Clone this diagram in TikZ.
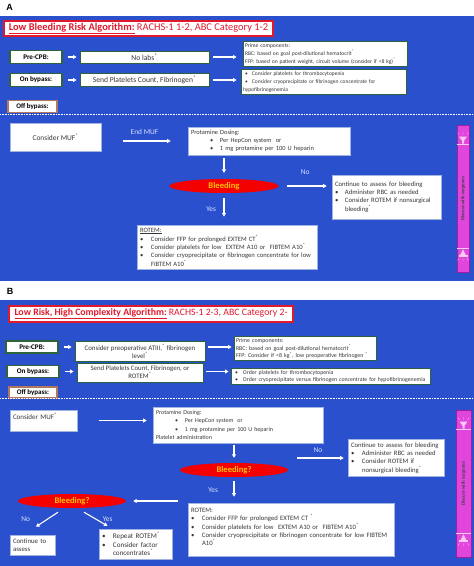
\documentclass[tikz,border=0pt]{standalone}
\usepackage{fontspec}
\setmainfont{Carlito}
\newfontfamily\panelfont{Liberation Sans}
\usepackage{tikz}
\usetikzlibrary{arrows.meta,positioning,calc,shapes.geometric}
\definecolor{panelblue}{RGB}{42,80,205}
\definecolor{boxgreen}{RGB}{45,100,60}
\definecolor{offbrown}{RGB}{175,120,95}
\definecolor{titlered}{RGB}{225,25,45}
\definecolor{bleedred}{RGB}{245,0,0}
\definecolor{bleedtext}{RGB}{255,195,0}
\definecolor{barpink}{RGB}{225,70,220}
\definecolor{baredge}{RGB}{160,30,160}
\definecolor{iconpink}{RGB}{250,200,245}
\definecolor{thinedge}{RGB}{160,180,225}
\definecolor{lbltext}{RGB}{215,225,255}
\definecolor{bodytext}{RGB}{55,55,55}
\newcommand{\bul}[1][10pt]{\makebox[#1][l]{\textbullet}}
\newcommand{\hang}[1][10pt]{\hspace*{#1}}
\newcommand{\st}{\textsuperscript{*}}
\tikzset{
  stagebox/.style={draw=boxgreen,line width=1.1pt,fill=white,inner sep=0pt,minimum height=13pt,minimum width=52pt,font=\fontsize{7.1}{8}\selectfont\bfseries},
  greenbox/.style={draw=boxgreen,line width=0.9pt,fill=white,inner sep=2pt,align=center,text=bodytext,font=\fontsize{7.6}{8.4}\selectfont},
  notebox/.style={draw=boxgreen,line width=0.9pt,fill=white,inner sep=2pt,align=left,text=bodytext,font=\fontsize{5.6}{8}\selectfont},
  offbox/.style={draw=offbrown,line width=1.1pt,fill=white,inner sep=0pt,minimum height=12pt,font=\fontsize{7}{8}\selectfont\bfseries},
  stepbox/.style={draw=thinedge,line width=0.6pt,fill=white,inner sep=3pt,align=left,text=bodytext,font=\fontsize{6.6}{8.2}\selectfont},
  titlebox/.style={draw=titlered,line width=1.5pt,fill=white,text=titlered,inner sep=0pt,minimum height=15pt,font=\fontsize{10.4}{12}\selectfont},
  decision/.style={ellipse,fill=bleedred,text=bleedtext,inner sep=0pt,minimum width=109pt,minimum height=14pt,font=\fontsize{8.6}{9}\selectfont\bfseries},
  sidebar/.style={draw=baredge,line width=0.8pt,fill=barpink,inner sep=0pt},
  flowarrow/.style={-{Triangle[width=4pt,length=3.5pt]},white,line width=1.1pt},
  flowlabel/.style={text=lbltext,inner sep=2.5pt,font=\fontsize{7.4}{9}\selectfont},
  panelletter/.style={font=\panelfont\fontsize{9}{10}\selectfont\bfseries}
}

\begin{document}
\begin{tikzpicture}[x=1pt,y=-1pt]
  \useasboundingbox (0,0) rectangle (474,566);
  \fill[panelblue] (0,15.5) rectangle (474,281);
  \fill[panelblue] (0,299.5) rectangle (474,566);

  \node[panelletter] (letA) at (9.5,7.5) {A};
  \node[titlebox,minimum width=269pt] (titleA) at (138.5,28.5) {\textbf{\underline{Low Bleeding Risk Algorithm:}} RACHS-1 1-2, ABC Category 1-2};
  \node[stagebox] (preA) at (36,57) {Pre-CPB:};
  \node[greenbox,minimum width=129pt,minimum height=12pt] (nolabs) at (144.5,57) {No labs\st};
  \node[notebox,text width=160pt] (primeA) at (325,54) {Prime components:\\RBC: based on goal post-dilutional hematocrit\st\\FFP: based on patient weight, circuit volume (consider if <8 kg)\st};
  \node[stagebox] (onA) at (36,80) {On bypass:};
  \node[greenbox,minimum width=129pt,minimum height=13pt] (sendA) at (144.5,80) {Send Platelets Count, Fibrinogen\st};
  \node[notebox,text width=161pt,font=\fontsize{5.5}{8}\selectfont] (plateA) at (323.5,82) {\hspace*{2pt}\bul[7pt]Consider platelets for thrombocytopenia\\\hspace*{2pt}\bul[7pt]Consider cryoprecipitate or fibrinogen concentrate for\\hypofibrinogenemia};
  \node[offbox,minimum width=49pt] (offA) at (32.5,106.5) {Off bypass:};
  \draw[white,line width=0.8pt,dash pattern=on 0.8pt off 0.8pt] (0,114) -- (474,114);

  \node[stepbox,align=center,minimum width=91pt,minimum height=28pt,font=\fontsize{7.4}{8.2}\selectfont] (mufA) at (55.5,137) {Consider MUF\st};
  \node[stepbox,text width=156pt,minimum height=28pt,font=\fontsize{6.4}{8.2}\selectfont] (protA) at (269,141) {Protamine Dosing:\\\hang[19pt]\bul Per HepCon system\ \ or\\\hang[19pt]\bul 1 mg protamine per 100 U heparin};
  \node[decision] (bleedA) at (224,186) {Bleeding};
  \node[stepbox,text width=103pt,minimum height=44pt,font=\fontsize{6.7}{8.3}\selectfont] (contA) at (386.5,197) {Continue to assess for bleeding\\\bul Administer RBC as needed\\\bul Consider ROTEM if nonsurgical\\\hang bleeding\st};
  \node[stepbox,text width=174pt,minimum height=44pt] (rotemA) at (227,247) {\underline{ROTEM:}\\\bul[11pt]Consider FFP for prolonged EXTEM CT\st\\\bul[11pt]Consider platelets for low\ \ EXTEM A10 or\ \ FIBTEM A10\st\\\bul[11pt]Consider cryoprecipitate or fibrinogen concentrate for low\\\hang[11pt]FIBTEM A10\st};
  \node[sidebar,minimum width=12pt,minimum height=147pt] (barA) at (463,198.5) {};
  \node[rotate=90,font=\fontsize{4.8}{5}\selectfont\bfseries,text=black!75] (discA) at (barA) {Discuss with surgeons};

  \draw[flowarrow,shorten <=5pt,shorten >=3pt] (preA) -- (nolabs);
  \draw[flowarrow,shorten <=4pt,shorten >=6pt] (nolabs.east) -- (nolabs.east -| primeA.west);
  \draw[flowarrow,shorten <=5pt,shorten >=3pt] (onA) -- (sendA);
  \draw[flowarrow,shorten <=4pt,shorten >=4pt] (sendA.east) -- (sendA.east -| plateA.west);
  \draw[flowarrow,shorten <=22pt,shorten >=17pt] (mufA.east |- protA) -- (protA.west)
      node[midway,above=3pt,flowlabel] (endmuf) {End MUF};
  \draw[flowarrow,shorten <=3pt,shorten >=6pt] (protA.south -| bleedA) -- (bleedA.north);
  \draw[flowarrow,shorten <=8pt,shorten >=5pt] (bleedA.east) -- (bleedA.east -| contA.west)
      node[midway,above=8pt,flowlabel] (noA) {No};
  \draw[flowarrow,shorten <=5pt,shorten >=8pt] (bleedA.south) -- (rotemA.north -| bleedA)
      node[midway,left=5pt,flowlabel] (yesA) {Yes};

  \node[panelletter] (letB) at (10,291.5) {B};
  \node[titlebox,minimum width=284pt,minimum height=16pt,font=\fontsize{9.8}{12}\selectfont] (titleB) at (151,314) {\textbf{\underline{Low Risk, High Complexity Algorithm:}} RACHS-1 2-3, ABC Category 2-};
  \node[stagebox,minimum height=12pt] (preB) at (32,347) {Pre-CPB:};
  \node[greenbox,minimum width=130pt,minimum height=20pt,font=\fontsize{6.9}{8}\selectfont] (atB) at (140,351) {Consider preoperative ATIII,\st\ fibrinogen\\level\st};
  \node[notebox,text width=138pt,font=\fontsize{5.9}{7.5}\selectfont] (primeB) at (305,348.5) {Prime components:\\RBC: based on goal post-dilutional hematocrit\st\\FFP: Consider if <8 kg\st, low preoperative fibrinogen \st};
  \node[stagebox,minimum height=12pt] (onB) at (33,371.5) {On bypass:};
  \node[greenbox,minimum width=126pt,minimum height=19pt,font=\fontsize{6.8}{8}\selectfont] (sendB) at (140,372.5) {Send Platelets Count, Fibrinogen, or\\ROTEM\st};
  \node[notebox,text width=195pt,font=\fontsize{5.8}{6.8}\selectfont] (plateB) at (330.5,376.5) {\hspace*{2pt}\bul[8pt]Order platelets for thrombocytopenia\\\hspace*{2pt}\bul[8pt]Order cryoprecipitate versus fibrinogen concentrate for hypofibrinogenemia};
  \node[offbox,minimum width=48pt,minimum height=11pt] (offB) at (33,392.5) {Off bypass:};
  \draw[white,line width=0.8pt,dash pattern=on 0.8pt off 0.8pt] (0,398) -- (474,398);

  \node[stepbox,text width=61pt,minimum height=19pt,font=\fontsize{7}{8.2}\selectfont] (mufB) at (43.5,420.5) {Consider MUF\st\\~};
  \node[stepbox,text width=164pt,minimum height=36pt,font=\fontsize{6}{8.2}\selectfont] (protB) at (238,425) {Protamine Dosing:\\\hang[19pt]\bul Per HepCon system\ \ or\\\hang[19pt]\bul 1 mg protamine per 100 U heparin\\Platelet administration};
  \node[decision,minimum width=108pt] (bleedB) at (234,470) {Bleeding?};
  \node[stepbox,text width=90pt,minimum height=36pt,font=\fontsize{6.7}{8.3}\selectfont] (contB) at (396,458) {Continue to assess for bleeding\\\bul[11pt]Administer RBC as needed\\\bul[11pt]Consider ROTEM if\\\hang[11pt]nonsurgical bleeding\st};
  \node[stepbox,text width=200pt,minimum height=53pt,font=\fontsize{6.7}{8.3}\selectfont] (rotemB) at (291,529.5) {ROTEM:\\\bul[11pt]Consider FFP for prolonged EXTEM CT \st\\\bul[11pt]Consider platelets for low\ \ EXTEM A10 or\ \ FIBTEM A10\st\\\bul[11pt]Consider cryoprecipitate or fibrinogen concentrate for low FIBTEM\\\hang[11pt]A10\st\\[-3pt]~};
  \node[decision,minimum width=108pt] (bleed2) at (72,501) {Bleeding?};
  \node[stepbox,text width=39pt,minimum height=20pt,font=\fontsize{6.8}{8.3}\selectfont] (cont2) at (32.5,545) {Continue to\\assess};
  \node[stepbox,text width=67pt,minimum height=28pt,font=\fontsize{7.1}{8.5}\selectfont] (rep) at (135.5,544) {\bul[11pt]Repeat ROTEM\st\\\bul[11pt]Consider factor\\\hang[11pt]concentrates\st};
  \node[sidebar,minimum width=15pt,minimum height=147pt] (barB) at (463.5,483.5) {};
  \node[rotate=90,font=\fontsize{4.8}{5}\selectfont\bfseries,text=black!75] (discB) at (barB) {Discuss with surgeons};

  \draw[flowarrow,shorten <=5pt,shorten >=3pt] (preB) -- (preB -| atB.west);
  \draw[flowarrow,shorten <=3pt,shorten >=2pt] (atB.east |- preB) -- (primeB.west |- preB);
  \draw[flowarrow,shorten <=5pt,shorten >=3pt] (onB) -- (onB -| sendB.west);
  \draw[flowarrow,shorten <=3pt,shorten >=2pt] (sendB.east |- onB) -- (plateB.west |- onB);
  \draw[flowarrow,shorten <=22pt,shorten >=6pt] (mufB) -- (mufB -| protB.west);
  \draw[flowarrow,shorten <=2pt,shorten >=5pt] (protB.south -| bleedB) -- (bleedB.north);
  \draw[flowarrow,shorten <=9pt,shorten >=4pt] (bleedB.east |- contB.west) -- (contB.west)
      node[midway,above=2pt,flowlabel] (noB) {No};
  \draw[flowarrow,shorten <=4pt,shorten >=6pt] (bleedB.south) -- (rotemB.north -| bleedB)
      node[midway,left=13pt,flowlabel] (yesB) {Yes};
  \draw[flowarrow,shorten <=10pt,shorten >=7pt] (rotemB.west |- bleed2) -- (bleed2.east);
  \draw[flowarrow] ([xshift=-14pt,yshift=-4pt]bleed2.south) -- ([xshift=3.5pt,yshift=8pt]cont2.north)
      node[midway,left=14pt,flowlabel] (no2) {No};
  \draw[flowarrow] ([xshift=12pt,yshift=-4pt]bleed2.south) -- ([xshift=-28pt,yshift=3pt]rep.north)
      node[midway,right=4pt,flowlabel] (yes2) {Yes};

  \foreach \b in {barA,barB}{
    \draw[iconpink,line width=0.4pt] ([yshift=-20pt]\b.north west) -- ([yshift=-20pt]\b.north east);
    \draw[iconpink,line width=0.4pt] ([yshift=24pt]\b.south west) -- ([yshift=24pt]\b.south east);
    \fill[iconpink] ($(\b.north)+(-4,12)$) -- ++(8,0) -- ++(-3,4) -- ++(0,3) -- ++(-2,0) -- ++(0,-3) -- cycle;
    \draw[iconpink,line width=0.3pt] ($(\b.north)+(-4,10)$) -- ++(-1.5,-2) ($(\b.north)+(0,10)$) -- ++(0,-2.5) ($(\b.north)+(4,10)$) -- ++(1.5,-2);
    \fill[iconpink] ($(\b.south)+(0,-23)$) -- ++(3,6) -- ++(-6,0) -- cycle;
    \fill[iconpink] ($(\b.south)+(-4.5,-17)$) rectangle ++(9,1.5);
    \draw[iconpink,line width=0.3pt] ($(\b.south)+(-4,-14)$) -- ++(-1.5,2) ($(\b.south)+(0,-14)$) -- ++(0,2.5) ($(\b.south)+(4,-14)$) -- ++(1.5,2);
  }
\end{tikzpicture}
\end{document}
